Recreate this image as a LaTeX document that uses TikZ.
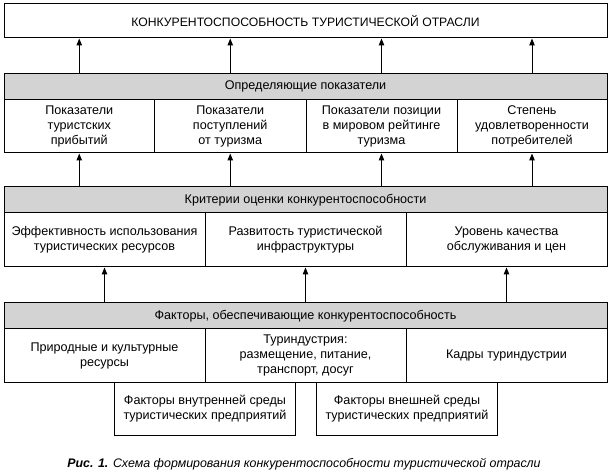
\documentclass[tikz,border=0pt]{standalone}
\usepackage{fontspec}
\setmainfont{Liberation Sans}
\usetikzlibrary{arrows.meta}
\definecolor{hdrgray}{HTML}{D3D3D3}
\begin{document}
\begin{tikzpicture}[x=1pt,y=-1pt,
  box/.style={draw=black, line width=1pt, fill=white, rectangle, inner sep=0pt, align=center,
    font=\fontsize{12.6}{15}\selectfont},
  hdr/.style={box, fill=hdrgray},
  arr/.style={line width=1pt, -{Triangle[length=7pt,width=5.5pt]}}]
\useasboundingbox (0,0) rectangle (611,473);
% top box
\node[box, minimum width=603, minimum height=34.5, font=\fontsize{12.2}{15}\selectfont] (top) at (305.5,20.75) {КОНКУРЕНТОСПОСОБНОСТЬ ТУРИСТИЧЕСКОЙ ОТРАСЛИ};
% indicators
\node[hdr, minimum width=603, minimum height=26.5] (indh) at (305.5,86.75) {Определяющие показатели};
\node[box, minimum width=150.5, minimum height=53] (ind1) at (79.25,126.5) {Показатели\\туристских\\прибытий};
\node[box, minimum width=151.5, minimum height=53] (ind2) at (230.25,126.5) {Показатели\\поступлений\\от туризма};
\node[box, minimum width=151, minimum height=53] (ind3) at (381.5,126.5) {Показатели позиции\\в мировом рейтинге\\туризма};
\node[box, minimum width=150, minimum height=53] (ind4) at (532,126.5) {Степень\\удовлетворенности\\потребителей};
% criteria
\node[hdr, minimum width=603, minimum height=26] (crith) at (305.5,200) {Критерии оценки конкурентоспособности};
\node[box, minimum width=201, minimum height=54] (crit1) at (104.5,240) {Эффективность использования\\туристических ресурсов};
\node[box, minimum width=201, minimum height=54] (crit2) at (305.5,240) {Развитость туристической\\инфраструктуры};
\node[box, minimum width=201, minimum height=54] (crit3) at (506.5,240) {Уровень качества\\обслуживания и цен};
% factors
\node[hdr, minimum width=603, minimum height=26] (facth) at (305.5,316) {Факторы, обеспечивающие конкурентоспособность};
\node[box, minimum width=201, minimum height=53] (fact1) at (104.5,355.5) {Природные и культурные\\ресурсы};
\node[box, minimum width=201, minimum height=53] (fact2) at (305.5,355.5) {Туриндустрия:\\размещение, питание,\\транспорт, досуг};
\node[box, minimum width=201, minimum height=53] (fact3) at (506.5,355.5) {Кадры туриндустрии};
\node[box, minimum width=181, minimum height=53.5] (inner) at (205,408.75) {Факторы внутренней среды\\туристических предприятий};
\node[box, minimum width=181, minimum height=53.5] (outer) at (407,408.75) {Факторы внешней среды\\туристических предприятий};
% arrows
\foreach \n in {ind1,ind2,ind3,ind4}{
  \draw[arr] (\n |- indh.north) -- (\n |- top.south);
  \draw[arr] (\n |- crith.north) -- (\n.south);
}
\foreach \n in {crit1,crit2,crit3}{
  \draw[arr] (\n |- facth.north) -- (\n.south);
}
% caption
\node[font=\fontsize{12.4}{14}\selectfont\itshape] (cap) at (304,464) {\textbf{Рис. 1.} Схема формирования конкурентоспособности туристической отрасли};
\end{tikzpicture}
\end{document}
